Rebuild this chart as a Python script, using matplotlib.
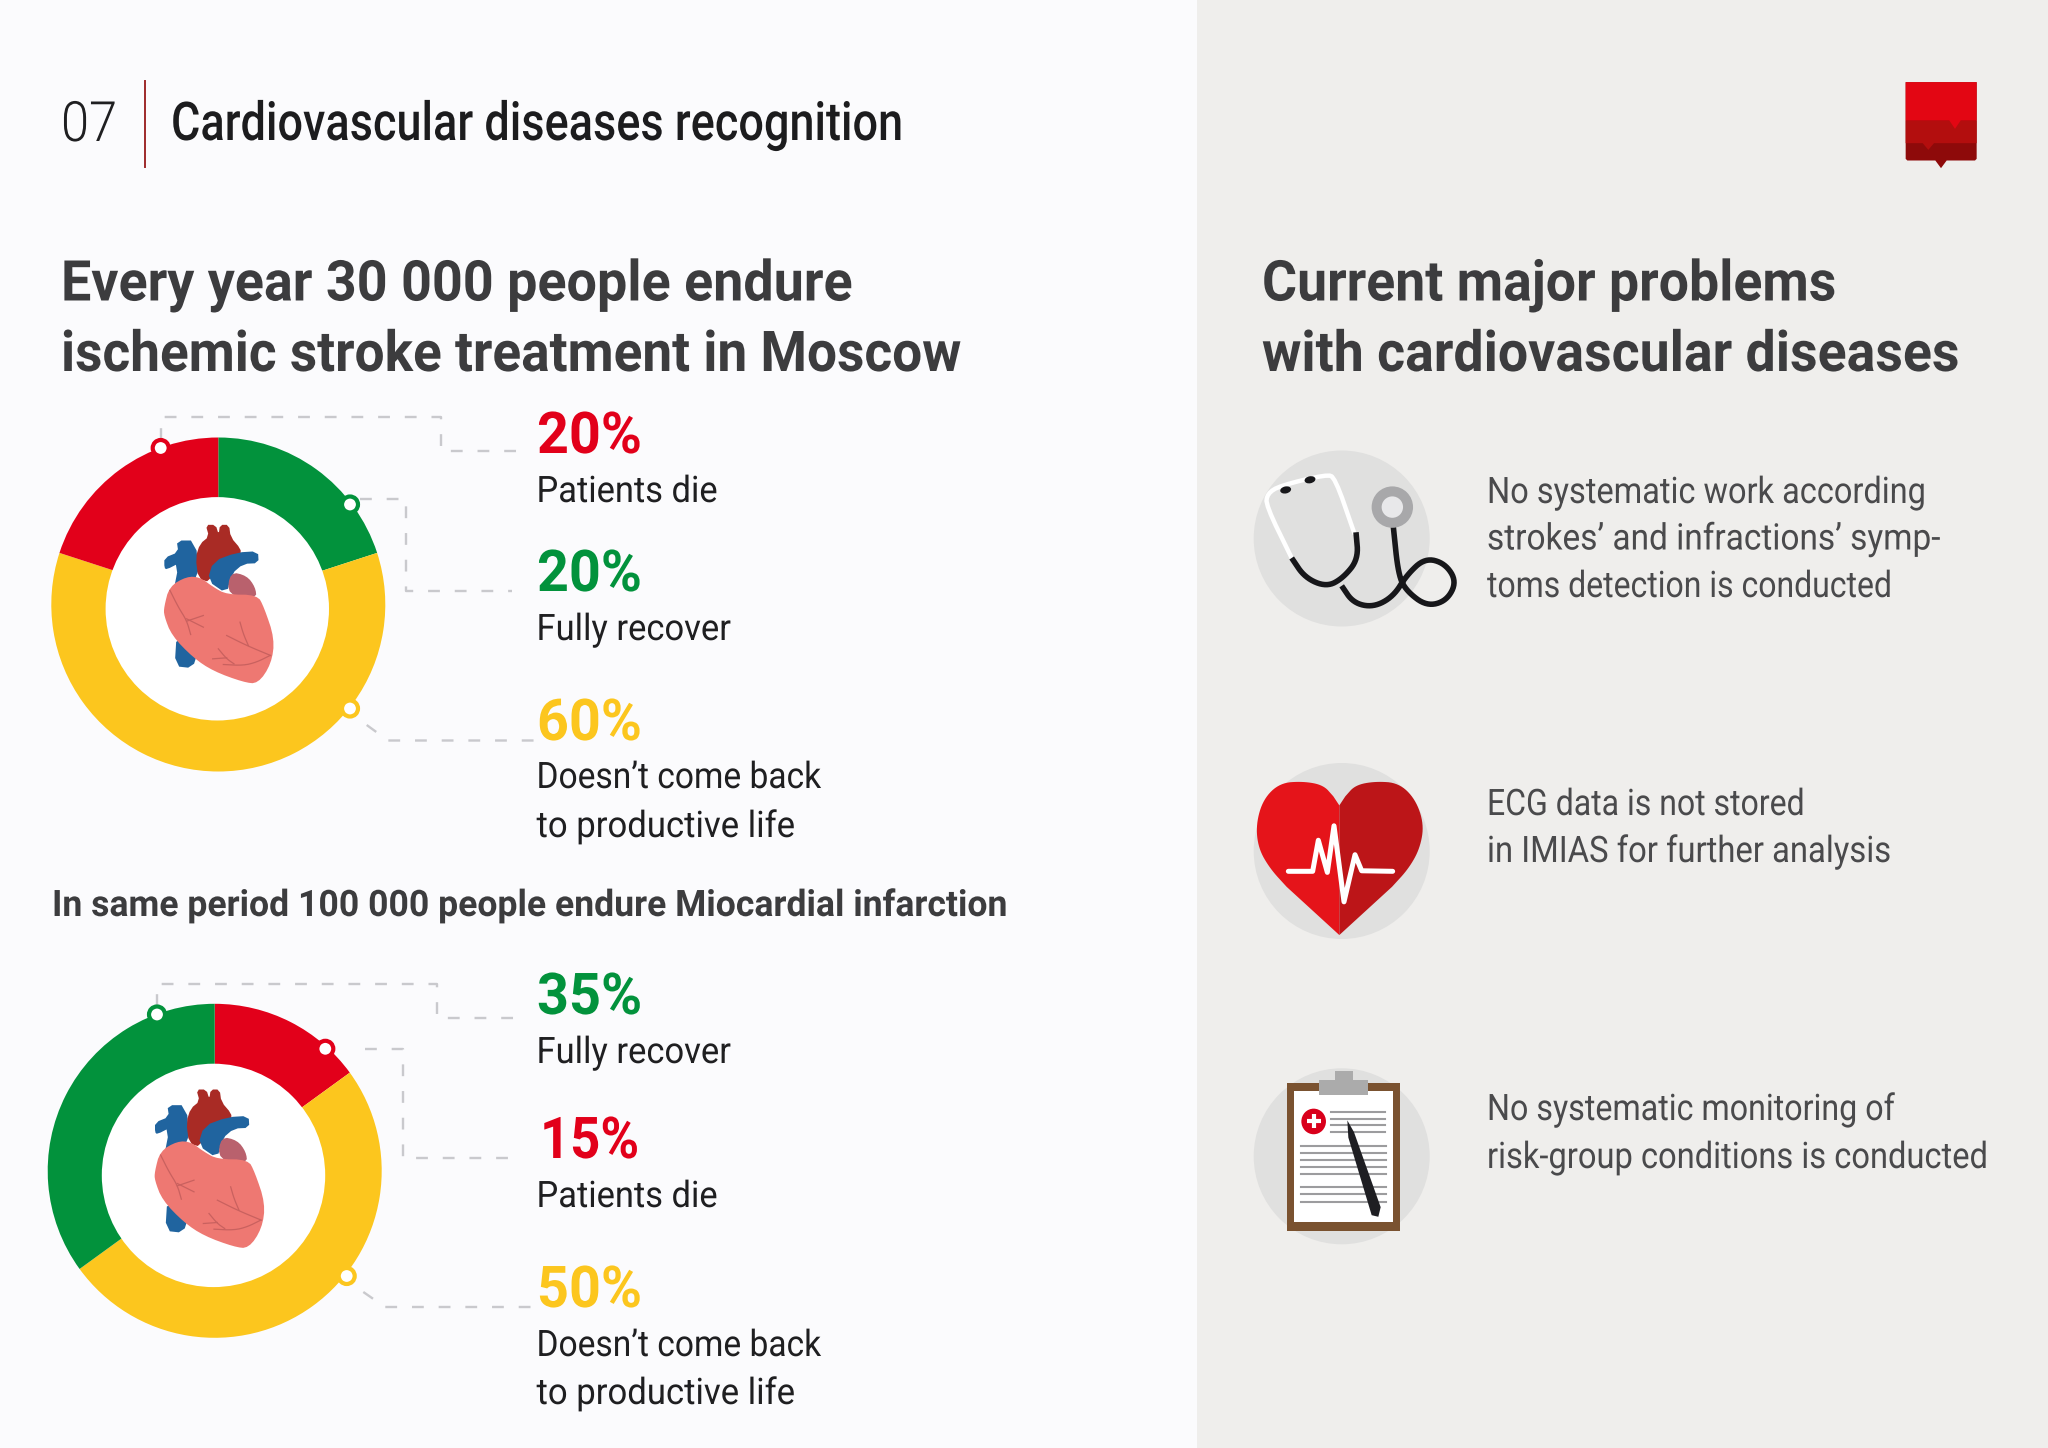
import numpy as np
import matplotlib
matplotlib.use("Agg")
import matplotlib.pyplot as plt
import matplotlib.patheffects as pe
from matplotlib.patches import Polygon, Circle, Ellipse, Rectangle
from matplotlib.transforms import Affine2D, Bbox

W, H = 2048, 1448
RED, GREEN, YELLOW = "#E2001A", "#02923C", "#FCC61E"
FONT = "Roboto"

# ---------------- data
stroke_labels = ["Fully recover", "Doesn't come back", "Patients die"]
stroke_values = [20, 60, 20]
stroke_colors = [GREEN, YELLOW, RED]
infarct_labels = ["Patients die", "Doesn't come back", "Fully recover"]
infarct_values = [15, 50, 35]
infarct_colors = [RED, YELLOW, GREEN]

fig = plt.figure(figsize=(W / 100, H / 100), dpi=100)
fig.patch.set_facecolor("#FBFBFD")


def donut(cx, cy, R, values, colors, hx, hy):
    a = fig.add_axes([(cx - R) / W, 1 - (cy + R) / H, 2 * R / W, 2 * R / H], zorder=1)
    a.pie(values, colors=colors, startangle=90, counterclock=False, radius=1,
          wedgeprops=dict(width=0.45, linewidth=0))
    a.add_patch(Circle((hx / R, -hy / R), 111.7 / R, color="white", lw=0, zorder=5))
    a.set_xlim(-1, 1)
    a.set_ylim(-1, 1)
    a.axis("off")


bg = fig.add_axes([0, 0, 1, 1], zorder=0)
bg.set_xlim(0, W); bg.set_ylim(H, 0); bg.axis("off")
bg.add_patch(Rectangle((1197, 0), W - 1197, H, color="#EFEEEC", lw=0))

donut(218.3, 604.5, 167, stroke_values, stroke_colors, -1, 4.3)
donut(214.7, 1170.8, 167, infarct_values, infarct_colors, -1.2, 4.6)

ax = fig.add_axes([0, 0, 1, 1], zorder=2)
ax.set_xlim(0, W); ax.set_ylim(H, 0); ax.axis("off"); ax.patch.set_alpha(0)
renderer = fig.canvas.get_renderer()


def chaikin(pts, closed=True, n=3):
    p = np.array(pts, float)
    for _ in range(n):
        q = np.roll(p, -1, axis=0) if closed else p[1:]
        a = p if closed else p[:-1]
        new = np.empty((2 * len(a), 2))
        new[0::2] = 0.75 * a + 0.25 * q
        new[1::2] = 0.25 * a + 0.75 * q
        if not closed:
            new = np.vstack([p[0], new, p[-1]])
        p = new
    return p


class Squeeze(pe.AbstractPathEffect):
    """Narrow a text horizontally about its left edge (no condensed face is installed)."""
    def __init__(self, x0, sx):
        super().__init__()
        self.x0, self.sx = x0, sx

    def draw_path(self, rnd, gc, tpath, affine, rgbFace=None):
        t = affine + Affine2D().translate(-self.x0, 0).scale(self.sx, 1).translate(self.x0, 0)
        rnd.draw_path(gc, tpath, t, rgbFace)


def txt(x, y, s, size, color, width, weight="normal"):
    t = ax.text(x, y, s, fontsize=size, color=color, fontweight=weight, family=FONT,
                ha="left", va="baseline", zorder=8)
    bb = t.get_window_extent(renderer)
    sx = width / bb.width
    t.set_path_effects([Squeeze(bb.x0, sx)])
    orig = t.get_window_extent

    def extent(r=None, dpi=None):
        b = orig(r, dpi)
        return Bbox([[b.x0, b.y0], [b.x0 + b.width * sx, b.y1]])

    t.get_window_extent = extent
    return t


# ---------------- header
txt(61, 141, "07", 40, "#1F1F21", 56, 300)
ax.plot([145, 145], [81, 167], color="#9E2A2B", lw=1.4)
txt(171, 140, "Cardiovascular diseases recognition", 38.5, "#1C1C1E", 733, 500)

H2 = "#3C3C3E"
txt(61, 300.5, "Every year 30 000 people endure", 40.5, H2, 791, "bold")
txt(61, 371, "ischemic stroke treatment in Moscow", 40.5, H2, 900, "bold")
txt(1262, 300.5, "Current major problems", 40.5, H2, 574, "bold")
txt(1262, 371, "with cardiovascular diseases", 40.5, H2, 697, "bold")
txt(52, 916, "In same period 100 000 people endure Miocardial infarction", 26.3, H2, 956, "bold")

# ---------------- left labels
DK = "#1F1F21"
for x, y, s, c, w in [(537, 453, f"{stroke_values[2]}%", RED, 105), (537, 591, f"{stroke_values[0]}%", GREEN, 105),
                      (537, 740, f"{stroke_values[1]}%", YELLOW, 105), (537, 1014, f"{infarct_values[2]}%", GREEN, 105),
                      (540, 1158, f"{infarct_values[0]}%", RED, 99), (537, 1307, f"{infarct_values[1]}%", YELLOW, 105)]:
    txt(x, y, s, 41.5, c, w, "bold")
for y, s, w in [(502, "Patients die", 181), (640, "Fully recover", 194), (788, "Doesn\u2019t come back", 284),
                (837, "to productive life", 258), (1063, "Fully recover", 194), (1207, "Patients die", 181),
                (1356, "Doesn\u2019t come back", 284), (1404, "to productive life", 258)]:
    txt(536.5, y, s, 26.3, DK, w)

# ---------------- right labels
GR = "#4A4A4C"
for y, s, w in [(503, "No systematic work according", 438), (549.5, "strokes\u2019 and infractions\u2019 symp-", 453),
                (597, "toms detection is conducted", 404), (815, "ECG data is not stored", 317),
                (862, "in IMIAS for further analysis", 404), (1120, "No systematic monitoring of", 407),
                (1168, "risk-group conditions is conducted", 500)]:
    txt(1487, y, s, 26.3, GR, w)

# ---------------- leaders
LEAD = dict(color="#C9C9CD", lw=1.7, dashes=(5.0, 6.3), zorder=1, dash_capstyle="butt")
leaders = [
    [(160.7, 440), (160.7, 417), (440.7, 417), (440.7, 451), (520.7, 451)],
    [(360, 499), (406, 499), (406, 591), (511.7, 591)],
    [(366.7, 725), (388, 740.5), (536.7, 740.5)],
    [(157, 1006), (157, 983.8), (437.3, 983.8), (437.3, 1017.8), (516.7, 1017.8)],
    [(365, 1048.8), (403.3, 1048.8), (403.3, 1157.8), (508.3, 1157.8)],
    [(363.3, 1292), (385, 1307), (531.7, 1307)],
]
for l in leaders:
    p = np.array(l)
    ax.plot(p[:, 0], p[:, 1], **LEAD)
for x, y, c in [(160.7, 448, RED), (350, 504.5, GREEN), (350, 708.5, YELLOW),
                (157, 1014.5, GREEN), (325.3, 1048.8, RED), (346.7, 1276, YELLOW)]:
    ax.add_patch(Circle((x, y), 8, fc="white", ec=c, lw=3, zorder=3))


# ---------------- anatomical heart (crop coordinates)
def heart(dx, dy):
    def P(pts):
        a = np.array(pts, float)
        return np.c_[30 + a[:, 0] / 3 + dx, 400 + a[:, 1] / 3 + dy]

    def poly(pts, c, z=4, n=1):
        ax.add_patch(Polygon(chaikin(P(pts), True, n), closed=True, fc=c, ec="none", zorder=z))

    blue = "#20649F"
    poly([(440, 420), (497, 420), (508, 540), (425, 600), (447, 488), (410, 507), (403, 502), (403, 472), (445, 455)], blue)
    poly([(440, 700), (505, 750), (488, 803), (434, 797)], blue)
    poly([(527, 373), (557, 373), (566, 402), (570, 373), (597, 373), (602, 410), (632, 445), (632, 462),
          (570, 475), (540, 545), (505, 535), (497, 470), (510, 430), (537, 408)], "#A92B25")
    poly([(550, 482), (620, 456), (684, 452), (686, 488), (640, 490), (605, 520), (590, 580), (532, 540)], blue)
    poly([(600, 514), (650, 525), (676, 560), (680, 595), (592, 585)], "#B9616D", 4, 2)
    poly([(402, 620), (418, 558), (470, 528), (510, 530), (550, 560), (590, 582), (682, 583), (702, 620),
          (734, 715), (724, 790), (684, 850), (640, 845), (550, 812), (490, 772), (425, 705), (402, 645)],
         "#EE7872", 5, 2)
    for v in [[(420, 570), (445, 620), (470, 660), (482, 702)], [(470, 662), (520, 645)], [(470, 655), (520, 680)],
              [(590, 705), (650, 735), (722, 765)], [(630, 665), (640, 700), (655, 735)],
              [(720, 765), (680, 785), (640, 795), (580, 792)], [(565, 745), (590, 775), (612, 790)],
              [(548, 775), (590, 772)]]:
        q = chaikin(P(v), False, 2)
        ax.plot(q[:, 0], q[:, 1], color="#C9615F", lw=0.9, zorder=6)


heart(0, 0.5)
heart(-9.33, 565.17)


# ---------------- right icons (crop coords: x scale 3, y scale 1.867)
def R(pts):
    a = np.array(pts, float)
    return np.c_[1230 + a[:, 0] / 3, 430.5 + a[:, 1] / 1.867]


for cy in (538.5, 851, 1156.3):
    ax.add_patch(Circle((1341.7, cy), 88, fc="#E0E0DF", ec="none", zorder=1))

# stethoscope
q = chaikin(R([(185, 238), (108, 140), (112, 118), (150, 103), (290, 82), (315, 88), (372, 190)]), False, 2)
ax.plot(q[:, 0], q[:, 1], color="white", lw=3.2, zorder=3, solid_joinstyle="round")
for pts in [[(185, 238), (225, 275), (290, 292), (340, 275), (385, 240), (378, 190)],
            [(335, 290), (370, 322), (430, 330), (490, 310), (530, 270), (585, 238), (645, 248), (680, 282),
             (650, 318), (590, 328), (530, 300), (505, 270), (490, 180)]]:
    q = chaikin(R(pts), False, 3)
    ax.plot(q[:, 0], q[:, 1], color="#17171A", lw=4, zorder=4, solid_capstyle="butt")
for c in [(167, 111), (240, 92)]:
    z = R([c])[0]
    ax.add_patch(Ellipse(z, 11, 7, angle=-12, fc="#17171A", ec="none", zorder=5))
z = R([(487, 143)])[0]
ax.add_patch(Circle(z, 20.7, fc="#A8A8AA", ec="none", zorder=5))
ax.add_patch(Circle(z, 10.7, fc="#E8E8EA", ec="none", zorder=6))

# red heart
notch, tip = (328, 700), (328, 942)
left = [(310, 683), (280, 662), (220, 655), (150, 658), (100, 688), (78, 735), (85, 780), (120, 818), (170, 852)]
right = [(346, 683), (376, 662), (436, 655), (506, 658), (556, 688), (582, 735), (570, 780), (536, 818), (486, 852)]
for side, c in [(left, "#E5141A"), (right, "#BC1518")]:
    s = chaikin(R(side), False, 3)
    ax.add_patch(Polygon(np.vstack([R([notch]), s, R([tip])]), closed=True, fc=c, ec="none", zorder=3))
q = R([(175, 823), (248, 823), (265, 765), (292, 825), (312, 738), (342, 880), (375, 792), (395, 822), (488, 823)])
ax.plot(q[:, 0], q[:, 1], color="white", lw=3.6, zorder=4, solid_joinstyle="round", solid_capstyle="round")


# clipboard
def box(x0, x1, y0, y1, c, z):
    a, b = R([(x0, y0), (x1, y1)])
    ax.add_patch(Rectangle(a, b[0] - a[0], b[1] - a[1], fc=c, ec="none", zorder=z))


box(172, 511, 1218, 1494, "#7A5230", 3)
box(192, 490, 1233, 1478, "white", 4)
box(266, 415, 1212, 1240, "#ABABAB", 5)
box(314, 368, 1195, 1215, "#ABABAB", 5)
for xs, ys in [((303, 466), (1273, 1285, 1297, 1310)), ((214, 467), (1336, 1348, 1362, 1375, 1388)),
               ((214, 467), (1412, 1425, 1440))]:
    for y in ys:
        q = R([(xs[0], y), (xs[1], y)])
        ax.plot(q[:, 0], q[:, 1], color="#9C9C9E", lw=1.5, zorder=5)
z = R([(251, 1290)])[0]
ax.add_patch(Ellipse(z, 24.6, 25.6, fc="#D9001B", ec="none", zorder=6))
ax.plot([z[0] - 7, z[0] + 7], [z[1], z[1]], color="white", lw=3, zorder=7, solid_capstyle="butt")
ax.plot([z[0], z[0]], [z[1] - 7, z[1] + 7], color="white", lw=3, zorder=7, solid_capstyle="butt")
ax.add_patch(Polygon(R([(352, 1288), (372, 1310), (452, 1450), (445, 1468), (425, 1465), (355, 1320)]),
                     fc="#1E1E22", ec="none", zorder=7))


# ---------------- logo
def L(pts):
    a = np.array(pts, float)
    return np.c_[1860 + a[:, 0] / 3, 60.5 + a[:, 1] / 3]


ax.add_patch(Polygon(L([(137, 65), (350, 65), (350, 295), (345, 300), (260, 300), (243, 323), (226, 300), (142, 300), (137, 295)]),
                     fc="#8E0A0A", ec="none", zorder=3))
ax.add_patch(Polygon(L([(137, 180), (350, 180), (350, 248), (222, 248), (205, 268), (188, 248), (137, 248)]),
                     fc="#B30E0E", ec="none", zorder=4))
ax.add_patch(Polygon(L([(137, 65), (350, 65), (350, 180), (302, 180), (285, 205), (268, 180), (137, 180)]),
                     fc="#E30613", ec="none", zorder=5))

fig.savefig("out.png", dpi=100, facecolor=fig.get_facecolor())
